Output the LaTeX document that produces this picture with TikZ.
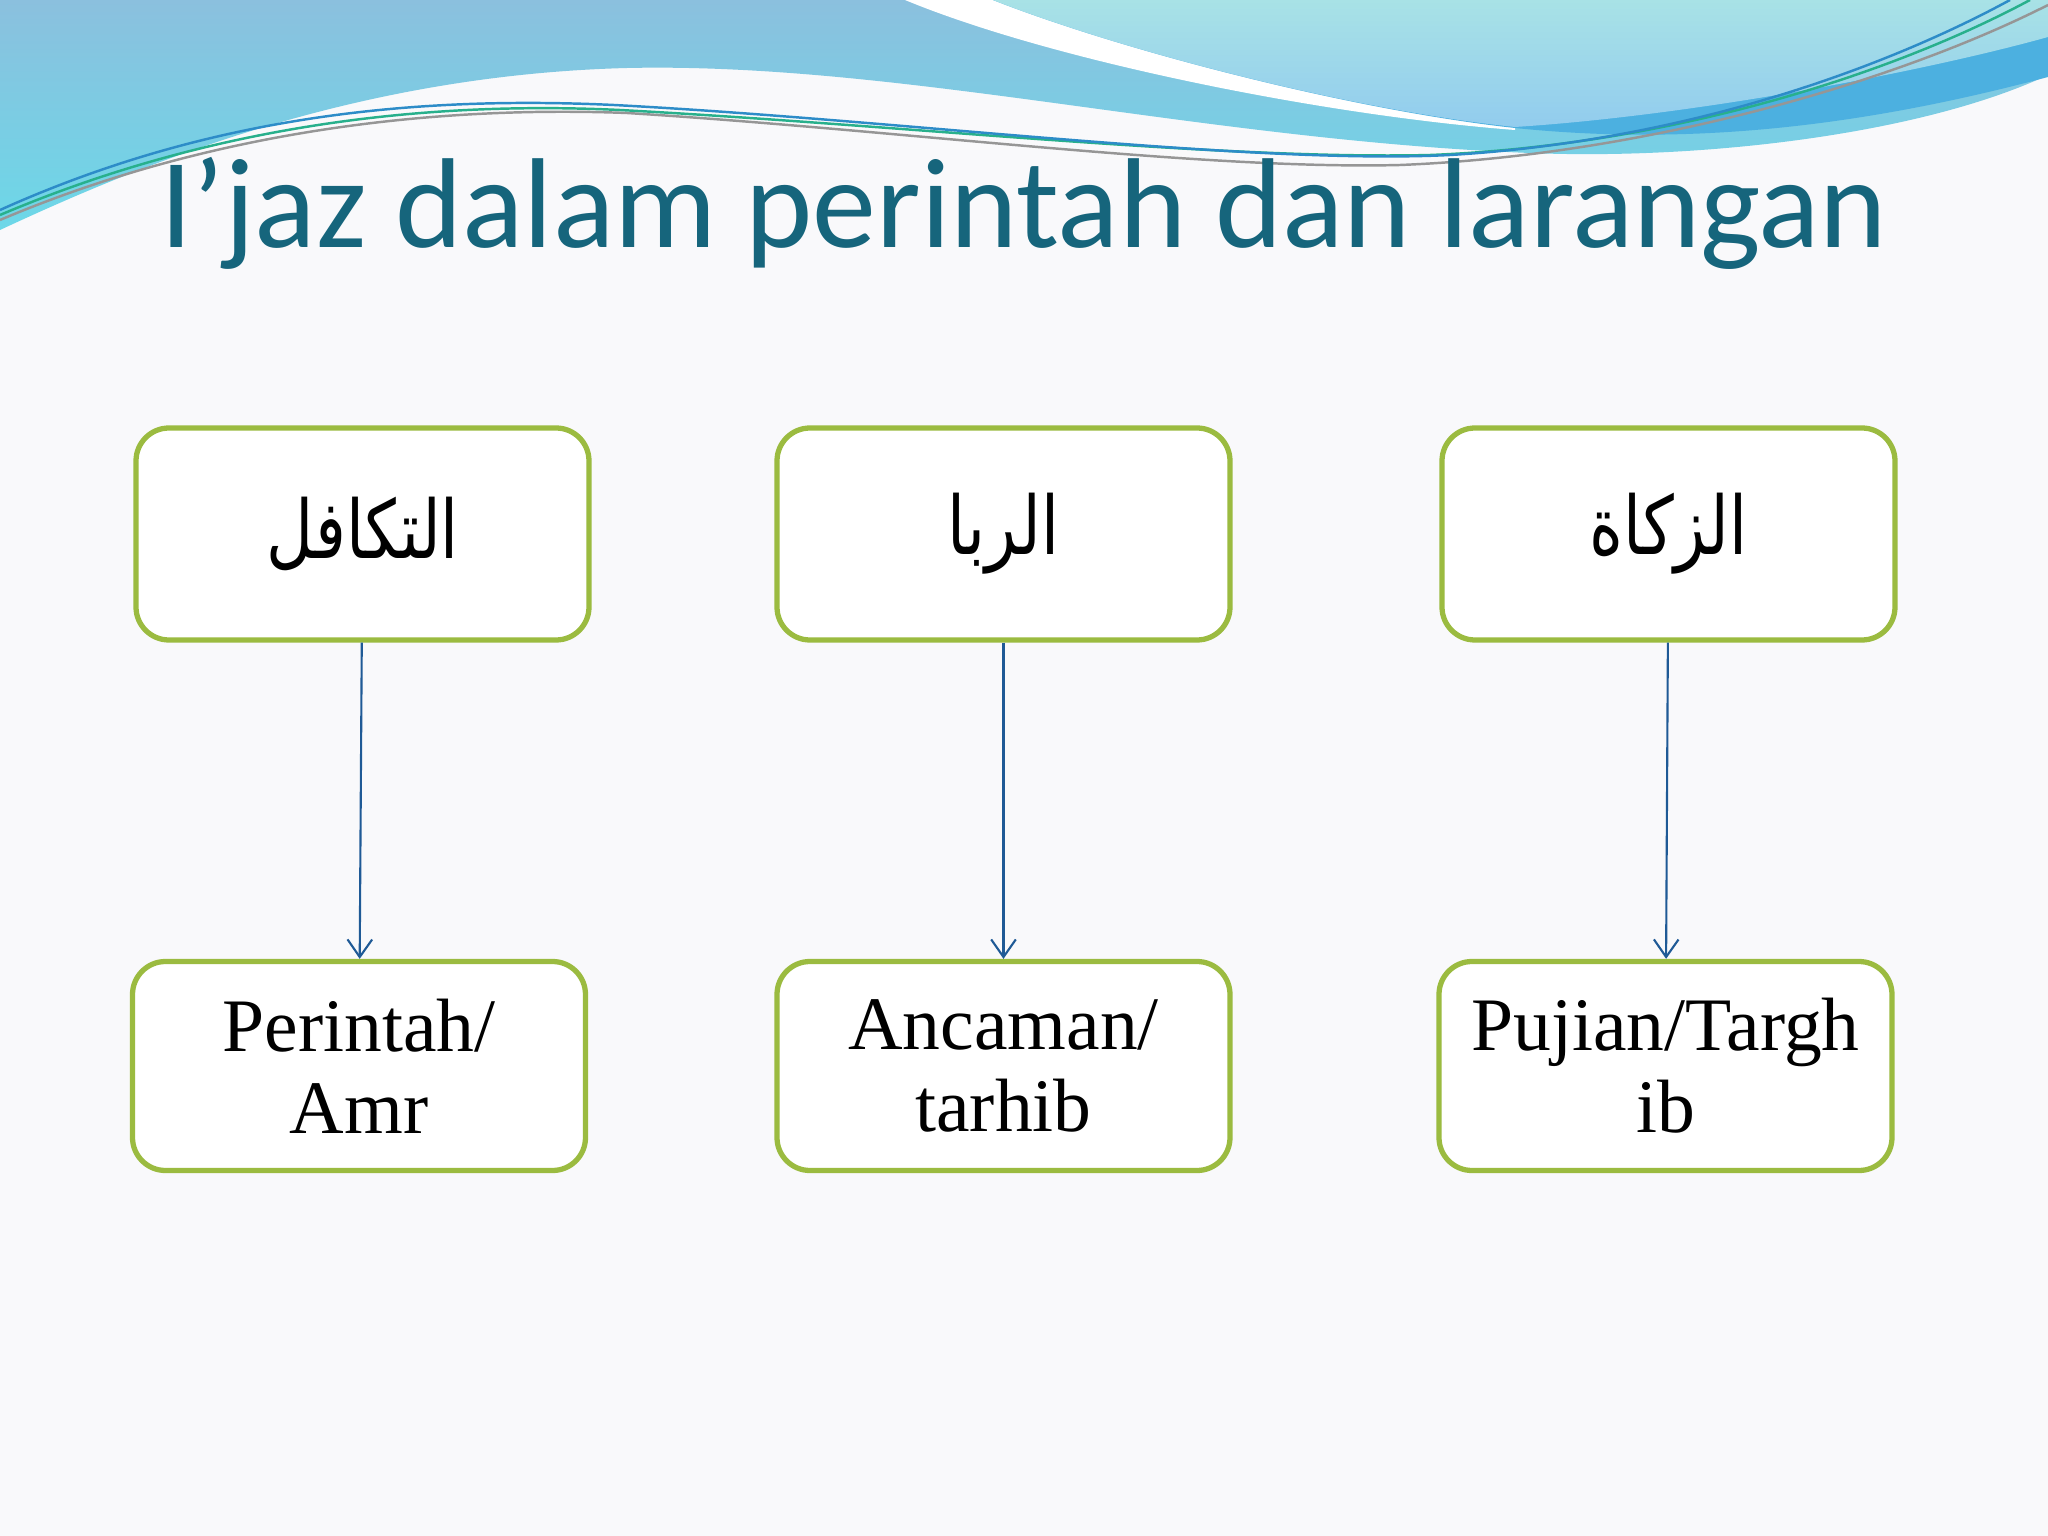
\documentclass[tikz,border=0pt]{standalone}
\usepackage{fontspec}
\usetikzlibrary{arrows.meta}
\setmainfont{Liberation Serif}
\newfontfamily\titlefont{Carlito}
\newfontfamily\arabicfont[Script=Arabic]{DejaVu Sans}
\TeXXeTstate=1
\definecolor{judul}{RGB}{22,101,124}
\definecolor{hijau}{RGB}{155,187,64}
\definecolor{panahbiru}{RGB}{31,90,150}
\definecolor{latar}{RGB}{249,249,251}
\definecolor{gelombangatas}{RGB}{139,192,222}
\definecolor{gelombangbawah}{RGB}{108,216,232}
\definecolor{pita}{RGB}{76,176,224}
\definecolor{mudaatas}{RGB}{168,226,230}
\definecolor{mudabawah}{RGB}{146,204,238}
\definecolor{garisabu}{RGB}{150,150,150}
\definecolor{garishijau}{RGB}{40,176,140}
\definecolor{garisbiru}{RGB}{45,140,200}
\newcommand{\teksarab}[1]{\scalebox{0.8}[1]{\beginR #1\endR}}

\begin{document}
\begin{tikzpicture}[
  kotak/.style={draw=hijau, line width=1.5pt, fill=white, rounded corners=0.33cm,
    minimum width=4.53cm, minimum height=2.12cm, inner sep=0pt, align=center},
  arab/.style={font=\arabicfont\fontsize{23}{28}\selectfont},
  latin/.style={font=\fontsize{21.5}{23.3}\selectfont},
  panah/.style={draw=panahbiru, line width=0.6pt, -{Straight Barb[length=5pt,width=7pt]}}
]
\useasboundingbox (0,0) rectangle (20.48,-15.36);
% 背景
\fill[latar] (0,0) rectangle (20.48,-15.36);

% 顶部波浪
\shade[top color=gelombangatas, bottom color=gelombangbawah]
  (0,0) -- (20.48,0) -- (20.48,-0.75) .. controls (19.2,-1.35) and (17.0,-1.6) .. (15.3,-1.53)
  .. controls (12.0,-1.4) and (9.0,-0.62) .. (6.27,-0.68)
  .. controls (3.6,-0.75) and (1.5,-1.6) .. (0,-2.3) -- cycle;
\fill[white] (9.05,0) .. controls (10.5,-0.6) and (13.2,-1.15) .. (15.15,-1.3) -- (15.15,0) -- cycle;
\fill[pita] (9.93,0) .. controls (11.2,-0.5) and (13.5,-1.1) .. (15.15,-1.28)
  .. controls (16.8,-1.45) and (18.5,-1.3) .. (20.48,-0.77) -- (20.48,0) -- cycle;
\shade[top color=mudaatas, bottom color=mudabawah]
  (9.93,0) .. controls (11.2,-0.5) and (13.5,-1.1) .. (15.15,-1.27)
  .. controls (17.0,-1.15) and (19.3,-0.7) .. (20.48,-0.37) -- (20.48,0) -- cycle;

% 细线
\draw[line width=0.7pt, garisabu] (0,-2.2) .. controls (2.0,-1.35) and (4.2,-1.05) .. (6.27,-1.13)
  .. controls (9.0,-1.3) and (12.0,-1.7) .. (14.0,-1.65) .. controls (16.5,-1.55) and (19.0,-0.8) .. (20.48,-0.05);
\draw[line width=0.7pt, garishijau] (0,-2.15) .. controls (2.0,-1.3) and (4.1,-1.0) .. (6.2,-1.1)
  .. controls (9.0,-1.25) and (12.2,-1.6) .. (14.3,-1.55) .. controls (16.8,-1.45) and (19.0,-0.7) .. (20.3,0);
\draw[line width=0.7pt, garisbiru] (0,-2.1) .. controls (2.0,-1.2) and (4.0,-0.95) .. (6.14,-1.05)
  .. controls (9.0,-1.2) and (12.5,-1.65) .. (14.5,-1.55) .. controls (17.0,-1.4) and (19.0,-0.6) .. (20.1,0);

% 标题
\node[anchor=base, text=judul, font=\titlefont\fontsize{36.4}{42}\selectfont] (judul) at (10.24,-2.48) {I’jaz dalam perintah dan larangan};

% 上面三个框
\node[kotak, arab] (takaful) at (3.625,-5.34) {\teksarab{التكافل}};
\node[kotak, arab] (riba) at (10.035,-5.34) {\teksarab{الربا}};
\node[kotak, arab] (zakat) at (16.685,-5.34) {\teksarab{الزكاة}};

% 下面三个框
\node[kotak, latin, minimum height=2.09cm] (amr) at (3.59,-10.66) {Perintah/\\Amr};
\node[kotak, latin, minimum height=2.09cm] (tarhib) at (10.035,-10.66) {Ancaman/\\tarhib};
\node[kotak, latin, minimum height=2.09cm] (targhib) at (16.655,-10.66) {Pujian/Targh\\ib};

% 箭头
\draw[panah] (takaful) -- (amr);
\draw[panah] (riba) -- (tarhib);
\draw[panah] (zakat) -- (targhib);
\end{tikzpicture}
\end{document}
